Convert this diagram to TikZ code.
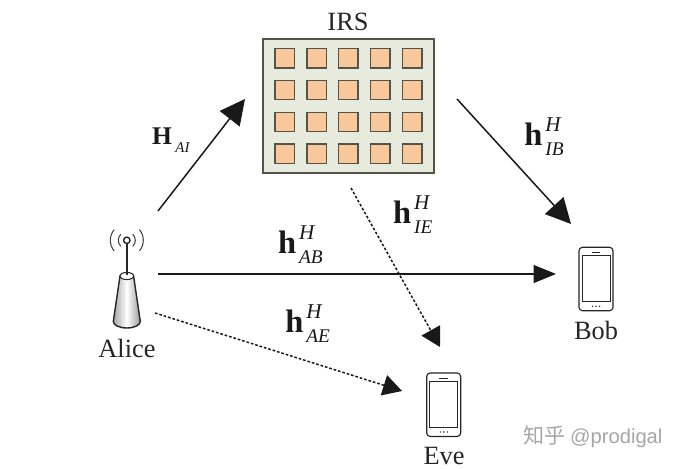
\documentclass[tikz,border=0pt]{standalone}
\usepackage{fontspec}
\setmainfont{Liberation Serif}
\newfontfamily\cjkfont{Noto Sans CJK SC}
\newfontfamily\markfont{Liberation Sans}
\usetikzlibrary{arrows.meta}
\usepackage{xcolor}

\definecolor{irsgreen}{HTML}{E6EBDD}
\definecolor{irsorange}{HTML}{F8C79A}
\definecolor{irsedge}{HTML}{56534A}

\newcommand{\chanlabel}[3]{{\fontsize{18.5}{20}\selectfont\textbf{#1}}\kern1.7pt\rlap{\raisebox{8pt}{\fontsize{12}{13}\selectfont\itshape #2}}\raisebox{-5.7pt}{\fontsize{11}{12}\selectfont\itshape #3}}
\newcommand{\matlabel}[2]{{\fontsize{14.5}{16}\selectfont\textbf{#1}}\kern2pt\raisebox{-4.5pt}{\fontsize{8.5}{10}\selectfont\itshape #2}}

\tikzset{
    namelabel/.style={font=\fontsize{15}{17}\selectfont, text=black!85, inner sep=0pt},
    chan/.style={inner sep=0pt, anchor=base west, text=black!90},
    solidlink/.style={-{Triangle[length=0.5cm,width=0.5cm]}, black!90, line width=0.85pt},
    bolink/.style={-{Triangle[length=0.45cm,width=0.36cm]}, black!90, line width=0.85pt},
    dashlink/.style={-{Triangle[length=0.38cm,width=0.42cm]}, black!90, line width=0.85pt, dash pattern=on 1.5pt off 1.1pt},
    element/.style={draw=irsedge, fill=irsorange, line width=0.7pt, minimum size=0.39cm, inner sep=0pt},
    wave/.style={black!75, line width=0.6pt},
    phone/.pic={
        \node[draw=black!85, line width=0.65pt, rounded corners=2pt, minimum width=0.68cm, minimum height=1.27cm, inner sep=0pt] (-body) at (0,0) {};
        \node[draw=black!85, line width=0.5pt, minimum width=0.56cm, minimum height=0.93cm, inner sep=0pt] (-screen) at (0,-0.5) {};
        \draw[black!85, line width=0.7pt] (-4.4,-26.4) -- (4.4,-26.4);
        \foreach \px in {-3.4,0,3.6}
            \fill[black!85] (\px,27.3) circle [radius=0.8];
    }
}

\begin{document}
\begin{tikzpicture}[x=0.02cm,y=-0.02cm]

\useasboundingbox (0,0) rectangle (683,469);
\fill[white] (0,0) rectangle (683,469);

% irs panel
\node[draw=irsedge, fill=irsgreen, line width=0.8pt, minimum width=3.42cm, minimum height=2.68cm, inner sep=0pt] (irs) at (348.5,106) {};
\foreach \row/\yy in {1/58.3,2/90,3/122,4/153.7}
    \foreach \col/\xx in {1/284.8,2/316.7,3/348.3,4/380.3,5/412.3}
        \node[element] (e\row\col) at (\xx,\yy) {};

% alice
\shade[left color=black!35, right color=black!40, middle color=white, draw=black!85, line width=0.8pt]
    (120,276) -- (113.3,321.5) arc[start angle=180, end angle=0, x radius=13.5, y radius=6.5] -- (133.6,276) -- cycle;
\draw[fill=white, draw=black!85, line width=0.6pt] (126.8,276) ellipse [x radius=6.8, y radius=3.6];
\draw[black!85, line width=1pt] (126.8,243.5) -- (126.8,275);
\draw[black!85, line width=0.8pt] (126.8,240.3) circle [radius=3.2];
\draw[wave] (126.8,240.3) ++(-45:8.5) arc[start angle=-45, end angle=45, radius=8.5];
\draw[wave] (126.8,240.3) ++(135:8.5) arc[start angle=135, end angle=225, radius=8.5];
\draw[wave] (126.8,240.3) ++(-40:16.5) arc[start angle=-40, end angle=40, radius=16.5];
\draw[wave] (126.8,240.3) ++(140:16.5) arc[start angle=140, end angle=220, radius=16.5];

% phones
\pic (bob) at (596,279) {phone};
\pic (eve) at (443.7,404.7) {phone};

% link ends
\coordinate (aliceUp) at (158,211);
\coordinate (aliceMid) at (158,274);
\coordinate (aliceLow) at (155,313);
\coordinate (irsLeft) at (245,99);
\coordinate (irsRight) at (457,99);
\coordinate (irsLow) at (351,188);
\coordinate (bobUp) at (571,224);
\coordinate (bobMid) at (556,274);
\coordinate (eveUp) at (440,347);
\coordinate (eveLeft) at (402,391);

\draw[solidlink] (aliceUp) -- (irsLeft);
\draw[solidlink] (irsRight) -- (bobUp);
\draw[bolink] (aliceMid) -- (bobMid);
\draw[dashlink] (aliceLow) -- (eveLeft);
\draw[dashlink] (irsLow) -- (eveUp);

% nodes
\node[namelabel] (irsname) at (348,22) {IRS};
\node[namelabel] (alicename) at (127,348) {Alice};
\node[namelabel] (bobname) at (596,330) {Bob};
\node[namelabel] (evename) at (444,456) {Eve};

\node[chan] (hai) at (151.7,145) {\matlabel{H}{AI}};
\node[chan] (hib) at (524,145.7) {\chanlabel{h}{H}{IB}};
\node[chan] (hie) at (392.7,223.3) {\chanlabel{h}{H}{IE}};
\node[chan] (hab) at (277.7,253.3) {\chanlabel{h}{H}{AB}};
\node[chan] (hae) at (285,332.7) {\chanlabel{h}{H}{AE}};

\node[inner sep=0pt, text=black!35] (mark) at (593,437) {{\cjkfont\fontsize{12}{14}\selectfont 知乎} {\markfont\fontsize{11.5}{14}\selectfont @prodigal}};

\end{tikzpicture}
\end{document}
